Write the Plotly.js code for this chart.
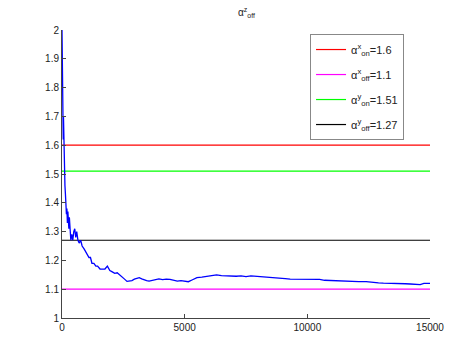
<!DOCTYPE html>
<html>
<head>
<meta charset="utf-8">
<script src="https://cdn.plot.ly/plotly-3.0.1.min.js"></script>
<style>html,body{margin:0;padding:0;background:#fff;}#chart{width:474px;height:355px;}</style>
</head>
<body>
<div id="chart"></div>
<script>
// Iteration index of the running estimate
const iterX = [0,10,20,30,40,50,60,70,80,90,100,110,120,140,160,180,200,220,240,260,280,300,320,340,360,400,440,480,520,560,600,650,700,760,820,900,960,1020,1100,1160,1220,1300,1380,1450,1550,1650,1750,1850,1950,2050,2150,2250,2350,2450,2550,2650,2750,2850,2950,3050,3150,3250,3350,3450,3550,3650,3800,3950,4100,4250,4400,4550,4700,4850,5000,5150,5300,5500,5700,5900,6100,6300,6500,6700,6900,7100,7300,7500,7700,7900,8100,8300,8500,8700,8900,9100,9300,9500,9700,9900,10100,10300,10500,10700,10900,11100,11300,11500,11800,12100,12400,12700,12900,13100,13400,13700,14000,14200,14400,14600,14750,14900,15000];
// Running estimate of alpha_off^z
const alphaZ = [2.0,1.84,1.80,1.74,1.70,1.62,1.70,1.64,1.58,1.52,1.55,1.50,1.46,1.43,1.40,1.36,1.38,1.33,1.37,1.35,1.31,1.35,1.33,1.29,1.27,1.29,1.27,1.30,1.31,1.28,1.30,1.27,1.26,1.27,1.25,1.24,1.23,1.22,1.21,1.21,1.19,1.19,1.18,1.18,1.17,1.17,1.17,1.18,1.165,1.16,1.155,1.157,1.15,1.145,1.135,1.127,1.128,1.13,1.135,1.137,1.14,1.136,1.132,1.13,1.128,1.13,1.134,1.136,1.133,1.135,1.134,1.13,1.128,1.13,1.128,1.126,1.132,1.14,1.142,1.145,1.148,1.15,1.147,1.146,1.147,1.145,1.146,1.144,1.146,1.145,1.144,1.143,1.141,1.14,1.138,1.137,1.135,1.135,1.134,1.135,1.135,1.136,1.134,1.131,1.13,1.13,1.129,1.127,1.127,1.126,1.126,1.125,1.122,1.121,1.121,1.12,1.119,1.118,1.116,1.116,1.12,1.119,1.12];

// Reference levels
const refNames = ['α<sup>x</sup><sub>on</sub>=1.6','α<sup>x</sup><sub>off</sub>=1.1','α<sup>y</sup><sub>on</sub>=1.51','α<sup>y</sup><sub>off</sub>=1.27'];
const refValues = [1.6, 1.1, 1.51, 1.27];
const refColors = ['#ff0000', '#ff00ff', '#00ff00', '#000000'];
const xRange = [0, 15000];

const traces = refValues.map((v, i) => ({
  x: xRange, y: [v, v], type: 'scatter', mode: 'lines',
  name: refNames[i], legendgroup: 'g' + i, line: {color: refColors[i], width: 1.2}
}));
traces.push({
  x: iterX, y: alphaZ, type: 'scatter', mode: 'lines',
  name: 'estimate', showlegend: false,
  line: {color: '#0000ff', width: 1.3}
});

const layout = {
  width: 474, height: 355,
  margin: {l: 62, r: 44, t: 30, b: 37},
  paper_bgcolor: '#fff', plot_bgcolor: '#fff',
  font: {family: 'Liberation Sans, Arial, sans-serif', size: 10, color: '#222'},
  title: {text: 'α<sup>z</sup><sub>off</sub>', x: 0.52, xanchor: 'center', y: 0.975, yanchor: 'top', font: {size: 10, color: '#222'}},
  xaxis: {
    range: xRange, tickvals: [0, 5000, 10000, 15000], ticktext: ['0','5000','10000','15000'],
    showgrid: false, zeroline: false, showline: true, linecolor: '#444', linewidth: 1,
    ticks: 'inside', ticklen: 4, tickcolor: '#444', mirror: false
  },
  yaxis: {
    range: [1, 2], tickvals: [1,1.1,1.2,1.3,1.4,1.5,1.6,1.7,1.8,1.9,2],
    ticktext: ['1','1.1','1.2','1.3','1.4','1.5','1.6','1.7','1.8','1.9','2'],
    showgrid: false, zeroline: false, showline: true, linecolor: '#444', linewidth: 1,
    ticks: 'inside', ticklen: 4, tickcolor: '#444', mirror: false
  },
  legend: {
    x: 0.674, y: 0.986, xanchor: 'left', yanchor: 'top',
    bgcolor: '#fff', bordercolor: '#888', borderwidth: 1,
    tracegroupgap: 6, traceorder: 'grouped',
    font: {size: 11, color: '#222'}
  }
};

Plotly.newPlot('chart', traces, layout, {displayModeBar: false, staticPlot: true});
</script>
</body>
</html>
